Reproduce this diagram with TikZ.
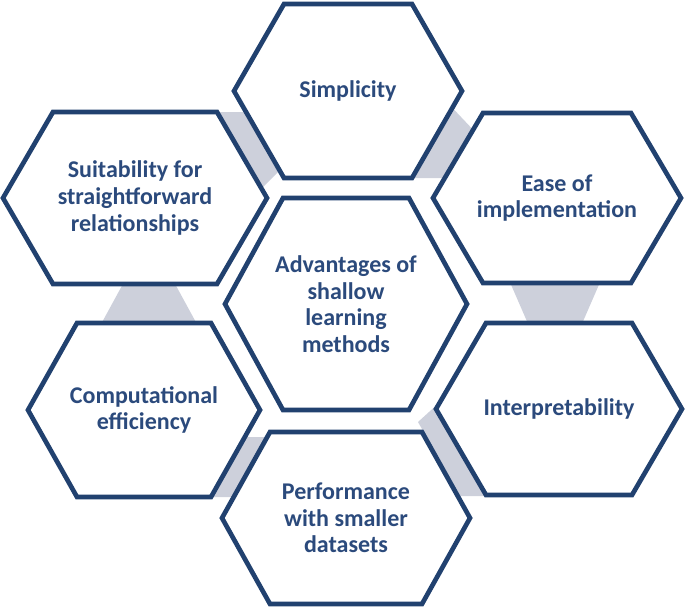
\documentclass[tikz,border=0pt]{standalone}
\usepackage{fontspec}
\setmainfont{Carlito}
\definecolor{hexblue}{HTML}{21416F}
\definecolor{txtblue}{HTML}{2B4A7C}
\definecolor{linkgray}{HTML}{CDD0DB}
\tikzset{
  hexline/.style={draw=hexblue, line width=3.5pt, line join=miter, fill=white},
  hextext/.style={align=center, text=txtblue, font=\fontsize{18}{20}\selectfont\bfseries, inner sep=0pt},
  linkshape/.style={fill=linkgray, draw=none}
}
\newcommand\hexcell[7]{%
  \draw[hexline] (#2-#4,#3) -- (#2-#6,#3-#5) -- (#2+#6,#3-#5) -- (#2+#4,#3)
     -- (#2+#6,#3+#5) -- (#2-#6,#3+#5) -- cycle;
  \node[hextext] (#1) at (#2,#3) {#7};
}
\begin{document}
\begin{tikzpicture}[x=0.75pt,y=-0.75pt]
\useasboundingbox (0,0) rectangle (685,608);
% gray links
\fill[linkshape] (205,112) -- (255,112) -- (290,160) -- (258,192) -- cycle;
\fill[linkshape] (445,100) -- (478,135) -- (450,178) -- (400,178) -- cycle;
\fill[linkshape] (509,280) -- (601,280) -- (581,326) -- (529,326) -- cycle;
\fill[linkshape] (418,422) -- (440,402) -- (500,496) -- (460,496) -- cycle;
\fill[linkshape] (235,437) -- (282,437) -- (248,497) -- (210,497) -- cycle;
\fill[linkshape] (124,282) -- (174,282) -- (198,326) -- (100,326) -- cycle;
% hexagons
\hexcell{simp}{348}{91}{114}{87}{64}{Simplicity}
\hexcell{suit}{135}{198}{132}{86}{82}{Suitability for\\straightforward\\relationships}
\hexcell{ease}{557}{198}{124}{85}{74}{Ease of\\implementation}
\hexcell{core}{346}{304}{121}{106}{63}{Advantages of\\shallow\\learning\\methods}
\hexcell{comp}{144}{410}{116}{87}{67}{Computational\\efficiency}
\hexcell{interp}{559}{409}{123}{86}{73}{Interpretability}
\hexcell{perf}{346}{518}{124}{86}{76}{Performance\\with smaller\\datasets}
\end{tikzpicture}
\end{document}
